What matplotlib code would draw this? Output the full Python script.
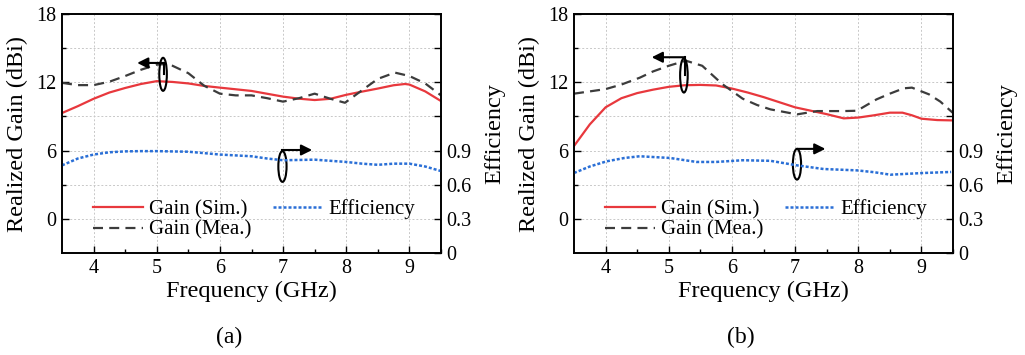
import numpy as np
import matplotlib
matplotlib.use("Agg")
import matplotlib.pyplot as plt
from matplotlib.patches import Ellipse
from matplotlib.ticker import FixedLocator, FixedFormatter

# --- data (GHz, dBi, efficiency) ---
f_sim_a = [3.5, 3.75, 4.0, 4.25, 4.5, 4.75, 5.0, 5.25, 5.5, 5.75, 6.0, 6.5, 7.0, 7.25, 7.5,
           7.75, 8.0, 8.25, 8.5, 8.75, 8.93, 9.0, 9.25, 9.5]
sim_a = [9.3, 9.9, 10.55, 11.1, 11.5, 11.85, 12.1, 12.03, 11.9, 11.68, 11.53, 11.24, 10.74,
         10.56, 10.44, 10.55, 10.9, 11.18, 11.45, 11.74, 11.85, 11.8, 11.2, 10.35]
f_mea_a = [3.5, 3.75, 4.0, 4.25, 4.5, 4.75, 5.0, 5.15, 5.25, 5.5, 5.75, 6.0, 6.25, 6.5, 6.75,
           7.0, 7.25, 7.5, 7.75, 7.98, 8.25, 8.5, 8.77, 9.0, 9.25, 9.5]
mea_a = [11.95, 11.75, 11.75, 12.05, 12.55, 13.1, 13.55, 13.6, 13.45, 12.8, 11.7, 11.0, 10.85,
         10.85, 10.6, 10.3, 10.6, 11.0, 10.55, 10.2, 11.3, 12.3, 12.85, 12.55, 11.9, 10.85]
f_eff_a = [3.5, 3.75, 4.0, 4.25, 4.5, 4.75, 5.0, 5.5, 6.0, 6.5, 6.75, 7.0, 7.5, 8.0, 8.25,
           8.5, 8.75, 9.0, 9.25, 9.5]
eff_a = [0.77, 0.83, 0.865, 0.885, 0.893, 0.895, 0.895, 0.89, 0.865, 0.85, 0.83, 0.815, 0.82,
         0.80, 0.785, 0.775, 0.785, 0.785, 0.76, 0.72]

f_sim_b = [3.5, 3.75, 4.0, 4.25, 4.5, 4.75, 5.0, 5.25, 5.5, 5.75, 6.0, 6.25, 6.5, 6.75, 7.0,
           7.25, 7.5, 7.77, 8.0, 8.25, 8.5, 8.7, 8.85, 9.0, 9.25, 9.5]
sim_b = [6.4, 8.3, 9.8, 10.6, 11.05, 11.35, 11.6, 11.74, 11.77, 11.72, 11.45, 11.1, 10.7, 10.25,
         9.8, 9.5, 9.2, 8.83, 8.9, 9.1, 9.33, 9.33, 9.1, 8.8, 8.68, 8.65]
f_mea_b = [3.5, 4.0, 4.25, 4.54, 4.75, 5.0, 5.27, 5.53, 5.85, 6.17, 6.4, 6.61, 7.03, 7.35, 7.77,
           7.98, 8.29, 8.5, 8.72, 8.85, 9.12, 9.3, 9.5]
mea_b = [11.0, 11.4, 11.8, 12.4, 12.95, 13.45, 13.9, 13.45, 11.83, 10.56, 10.0, 9.62, 9.18, 9.47,
         9.47, 9.5, 10.5, 11.0, 11.47, 11.53, 10.94, 10.3, 9.3]
f_eff_b = [3.5, 3.75, 4.02, 4.3, 4.54, 5.02, 5.44, 5.75, 6.17, 6.61, 7.03, 7.45, 7.98, 8.25,
           8.51, 8.75, 9.03, 9.47]
eff_b = [0.703, 0.76, 0.806, 0.835, 0.85, 0.835, 0.80, 0.80, 0.815, 0.81, 0.77, 0.738, 0.726,
         0.71, 0.688, 0.695, 0.703, 0.712]

panels = [
    ("(a)", f_sim_a, sim_a, f_mea_a, mea_a, f_eff_a, eff_a,
     # ellipse (x, y, w, h), arrow tip (x, y)  (gain ellipse, eff ellipse)
     (5.10, 12.7, 0.12, 2.9), (4.69, 13.7), (6.99, 4.6, 0.13, 2.7), (7.46, 6.05)),
    ("(b)", f_sim_b, sim_b, f_mea_b, mea_b, f_eff_b, eff_b,
     (5.24, 12.6, 0.12, 3.0), (4.73, 14.2), (7.03, 4.8, 0.13, 2.7), (7.48, 6.15)),
]

plt.rcParams.update({
    "font.family": "serif",
    "font.serif": ["Liberation Serif", "DejaVu Serif"],
    "font.size": 14.5,
    "axes.linewidth": 1.2,
})

RED = "#e8383d"
BLUE = "#2a6fd6"
DARK = "#3c3c3c"

fig = plt.figure(figsize=(10.25, 3.55), dpi=100)
lefts = [62 / 1025, 574 / 1025]
width = 379 / 1025
bottom = 1 - 253 / 355
height = 239 / 355

for k, (tag, fs, s, fm, m, fe, e, ell1, arr1, ell2, arr2) in enumerate(panels):
    ax = fig.add_axes([lefts[k], bottom, width, height])
    ax2 = ax.twinx()

    l1, = ax.plot(fs, s, color=RED, lw=1.6, label="Gain (Sim.)")
    l2, = ax.plot(fm, m, color=DARK, lw=1.6, ls=(0, (4.5, 2.8)), label="Gain (Mea.)")
    l3, = ax2.plot(fe, e, color=BLUE, lw=1.8, ls=(0, (1.2, 0.8)), label="Efficiency")

    ax.set_xlim(3.5, 9.5)
    ax.set_ylim(-3, 18)
    ax2.set_ylim(0, 2.1)
    ax.set_xticks([4, 5, 6, 7, 8, 9])
    ax.set_xticks(np.arange(4.5, 9.6, 1.0), minor=True)
    ax.set_yticks([0, 6, 12, 18])
    ax.set_yticks([3, 9, 15], minor=True)
    r_ticks = [0, 0.3, 0.6, 0.9, 1.2, 1.5, 1.8, 2.1]
    ax2.yaxis.set_major_locator(FixedLocator(r_ticks))
    ax2.yaxis.set_major_formatter(FixedFormatter(["0", "0.3", "0.6", "0.9", "", "", "", ""]))

    ax.tick_params(which="both", direction="in", top=False)
    ax.tick_params(which="major", length=5, width=1.0, labelsize=14.5, pad=4)
    ax.tick_params(which="minor", length=3, width=1.0)
    ax2.tick_params(direction="in", length=5, width=1.0, labelsize=14.5, pad=4)

    ax.grid(True, which="both", axis="y", color="#c8c8c8", ls=(0, (2, 2)), lw=0.7)
    ax.grid(True, which="major", axis="x", color="#c8c8c8", ls=(0, (2, 2)), lw=0.7)

    ax.set_xlabel("Frequency (GHz)", fontsize=17.5, labelpad=2)
    ax.set_ylabel("Realized Gain (dBi)", fontsize=17.5, labelpad=6)
    ax2.set_ylabel("Efficiency", fontsize=17.5)
    ax2.yaxis.set_label_coords(1.115, 0.5)

    # ellipse + arrow annotations
    for (ex, ey, ew, eh), (tx, ty), up in ((ell1, arr1, True), (ell2, arr2, False)):
        ax.add_patch(Ellipse((ex, ey), ew, eh, fill=False, ec="black", lw=1.5, zorder=5))
        if up:
            ax.plot([ex + 0.01, ex + 0.01], [ey, ty], color="black", lw=1.5, zorder=5)
        else:
            ax.plot([ex, ex], [ey + eh / 2, ty], color="black", lw=1.5, zorder=5)
        ax.annotate("", xy=(tx, ty), xytext=(ex + (0.01 if up else 0), ty),
                    arrowprops=dict(arrowstyle="-|>", color="black", lw=1.5,
                                    mutation_scale=16, shrinkA=0, shrinkB=0),
                    zorder=6)

    ax2.legend([l1, l2, l3], ["Gain (Sim.)", "Gain (Mea.)", "Efficiency"], ncol=2,
               loc="lower left", bbox_to_anchor=(0.06, 0.02), frameon=False,
               fontsize=15, handlelength=2.4, handletextpad=0.3, columnspacing=1.0,
               labelspacing=0.05, borderaxespad=0)

    fig.text(lefts[k] + width * 0.44, 1 - 337 / 355, tag, fontsize=17,
             ha="center", va="center")

fig.savefig("out.png", dpi=100)
